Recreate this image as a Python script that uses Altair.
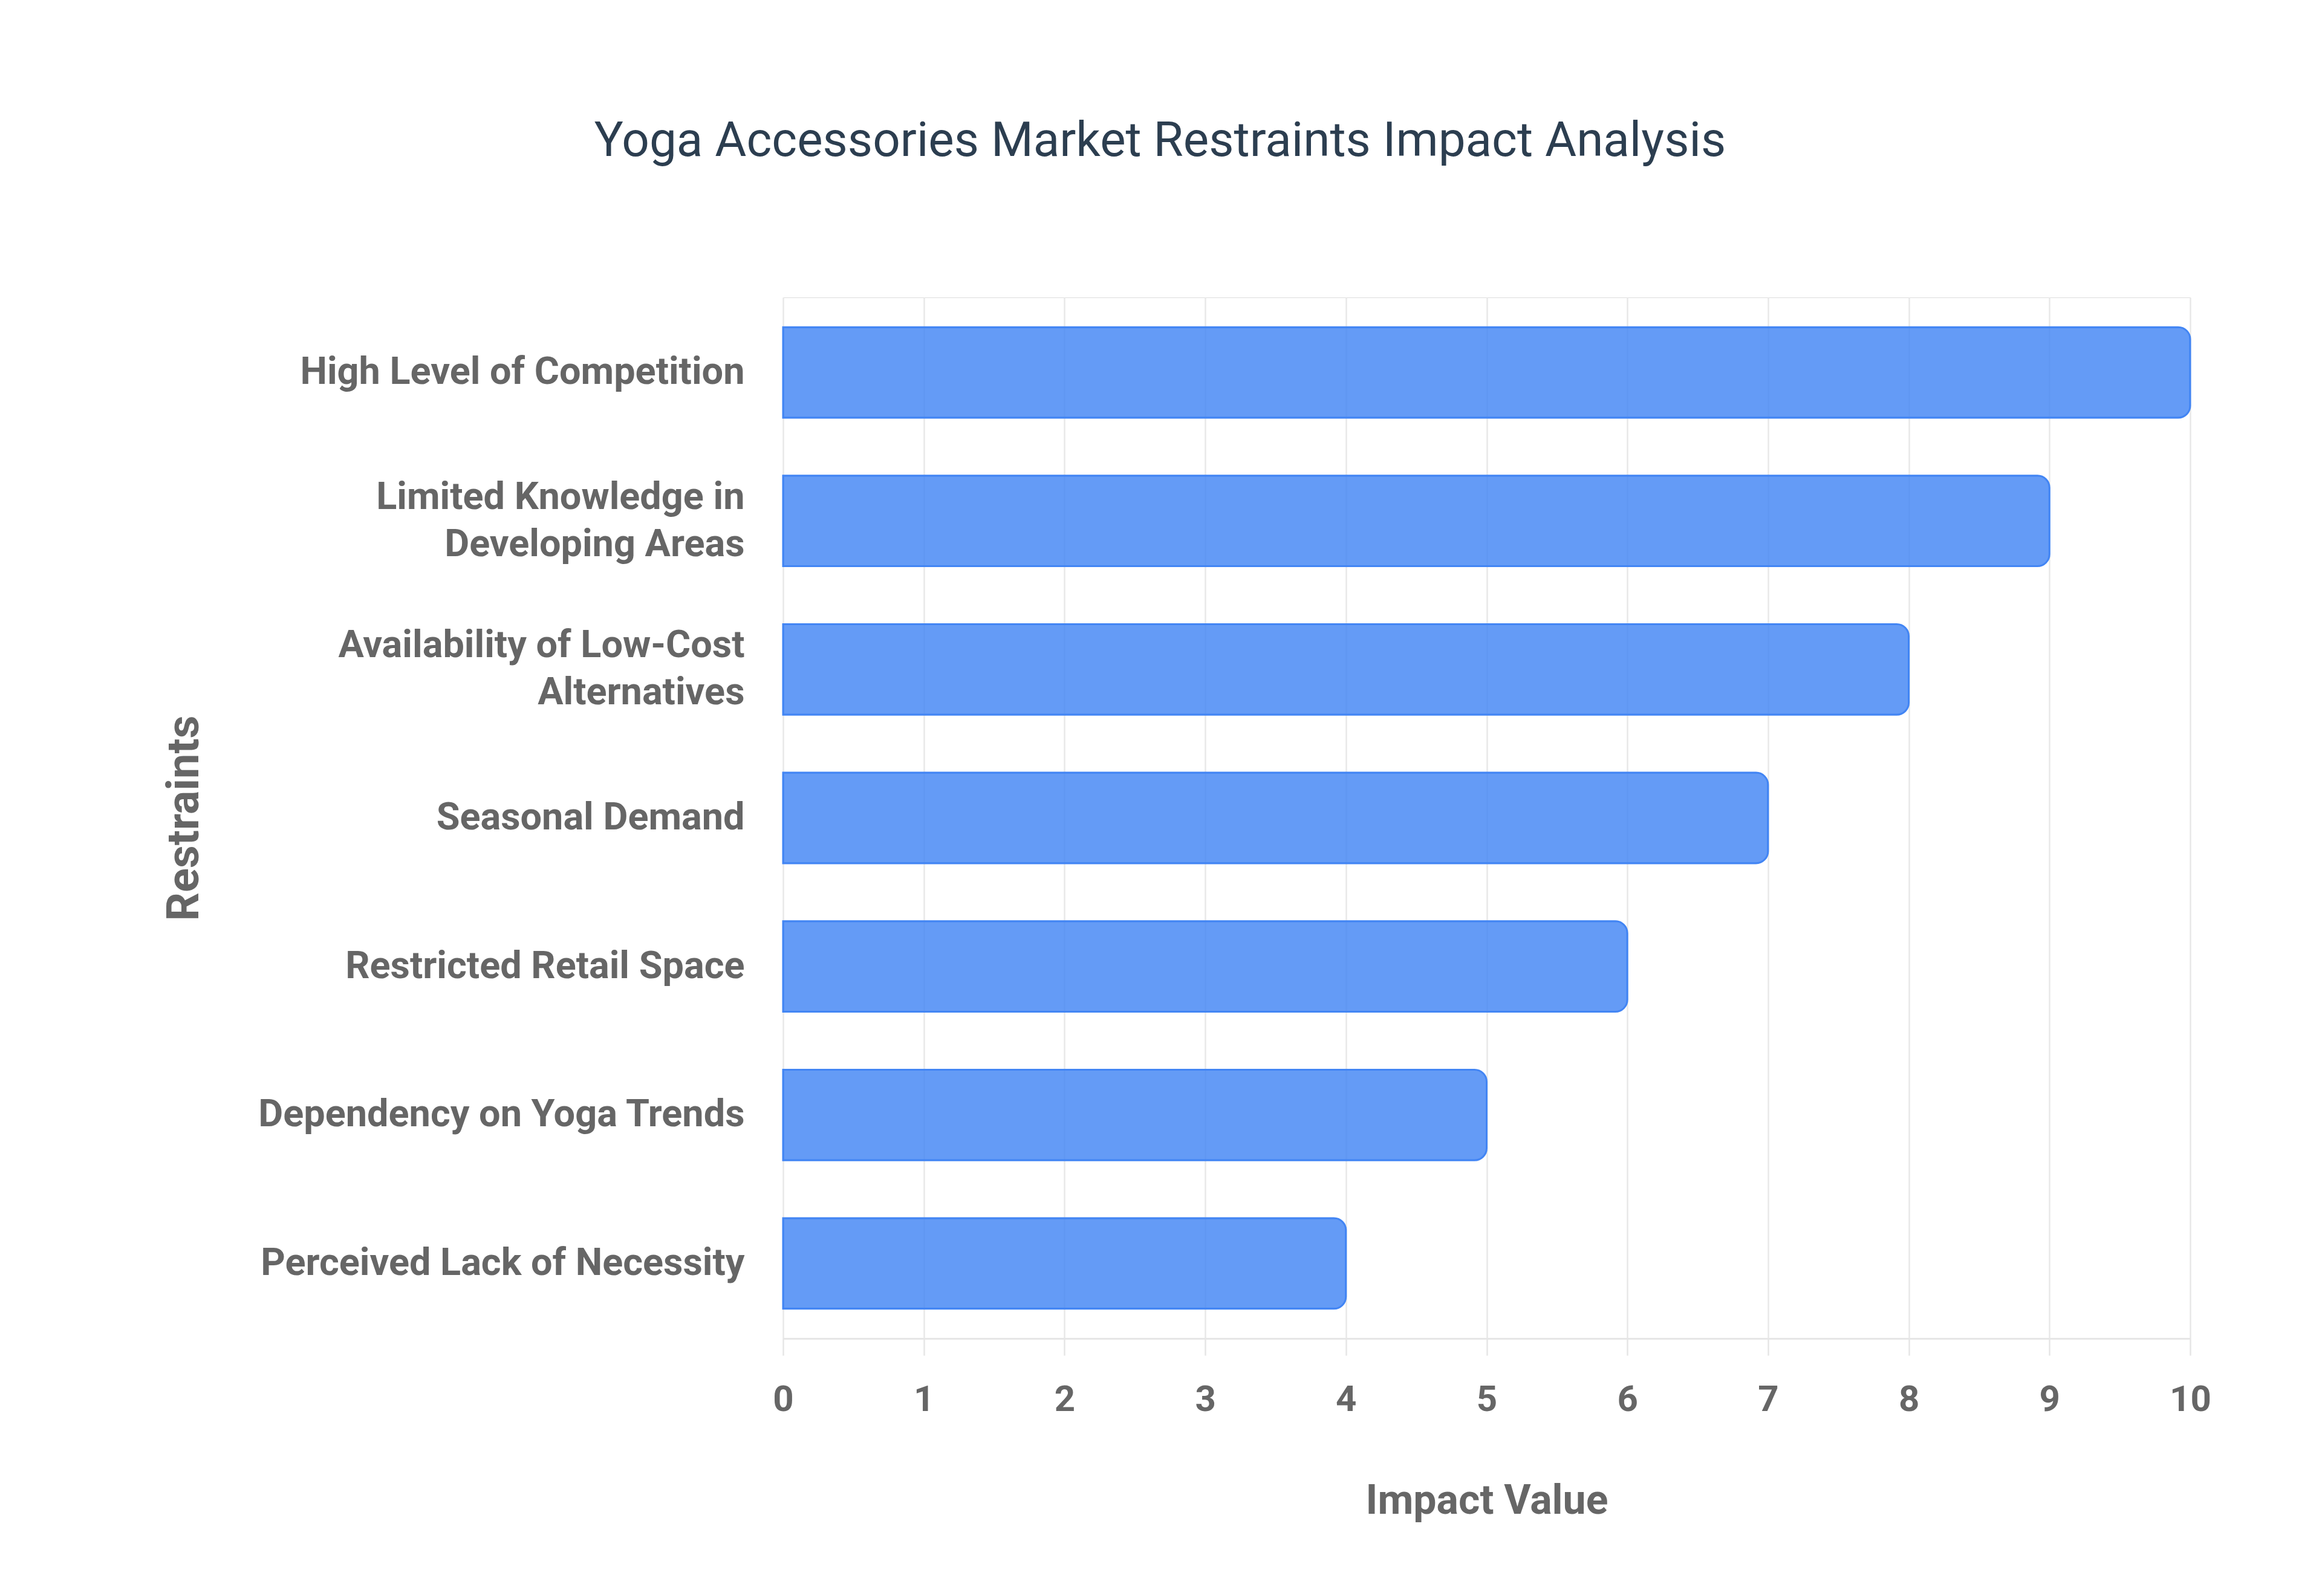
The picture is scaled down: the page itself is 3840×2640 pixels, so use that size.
import altair as alt
import pandas as pd

restraints = [
    "High Level of Competition",
    "Limited Knowledge in Developing Areas",
    "Availability of Low-Cost Alternatives",
    "Seasonal Demand",
    "Restricted Retail Space",
    "Dependency on Yoga Trends",
    "Perceived Lack of Necessity",
]
impact = [10, 9, 8, 7, 6, 5, 4]
x_ticks = list(range(0, 11))

df = pd.DataFrame({"Restraint": restraints, "Impact": impact})

FONT = "Roboto"

label_expr = (
    "split(replace(replace(datum.label, ' in Developing', ' in|Developing'),"
    " ' Low-Cost Alternatives', ' Low-Cost|Alternatives'), '|')"
)
two_line_test = (
    "indexof(datum.label, ' in Developing') >= 0 || "
    "indexof(datum.label, 'Low-Cost') >= 0"
)

W, H = 2327, 1722

chart = (
    alt.Chart(df)
    .mark_bar(
        color="#4285f4",
        fillOpacity=0.82,
        stroke="#4285f4",
        strokeWidth=3,
        cornerRadiusEnd=20,
    )
    .encode(
        x=alt.X(
            "Impact:Q",
            scale=alt.Scale(domain=[0, 10], nice=False),
            axis=alt.Axis(
                values=x_ticks,
                format="d",
                title="Impact Value",
                titleFont=FONT,
                titleFontSize=68,
                titleFontWeight="bold",
                titleColor="#666666",
                titlePadding=104,
                labelFont=FONT,
                labelFontSize=60,
                labelFontWeight="bold",
                labelColor="#666666",
                labelPadding=44,
                labelFlush=False,
                tickSize=28,
                tickColor="#e6e6e6",
                tickWidth=2.5,
                domainColor="#e6e6e6",
                domainWidth=3,
                gridColor="#e8e8e8",
                gridWidth=2.5,
            ),
        ),
        y=alt.Y(
            "Restraint:N",
            sort=restraints,
            scale=alt.Scale(paddingInner=0.39, paddingOuter=0.2),
            axis=alt.Axis(
                title="Restraints",
                titleFont=FONT,
                titleFontSize=74,
                titleFontWeight="bold",
                titleColor="#666666",
                titleX=-952,
                titleY=H / 2,
                labelFont=FONT,
                labelFontSize=63,
                labelFontWeight="bold",
                labelColor="#666666",
                labelPadding=64,
                labelLineHeight=78,
                labelLimit=1200,
                labelExpr=label_expr,
                labelOffset={"condition": {"test": two_line_test, "value": -39}, "value": 0},
                ticks=False,
                domain=False,
                grid=False,
            ),
        ),
    )
    .properties(
        width=W,
        height=H,
        autosize="none",
        padding={"left": 1287, "top": 484, "right": 210, "bottom": 418},
        title=alt.Title(
            "Yoga Accessories Market Restraints Impact Analysis",
            font=FONT,
            fontSize=80,
            fontWeight="normal",
            color="#2c3e50",
            anchor="middle",
            dx=-540,
            offset=217,
        ),
    )
    .configure_view(strokeWidth=0)
    .configure(background="white")
)

chart.save("out.html", embed_options={"renderer": "svg", "actions": False})
